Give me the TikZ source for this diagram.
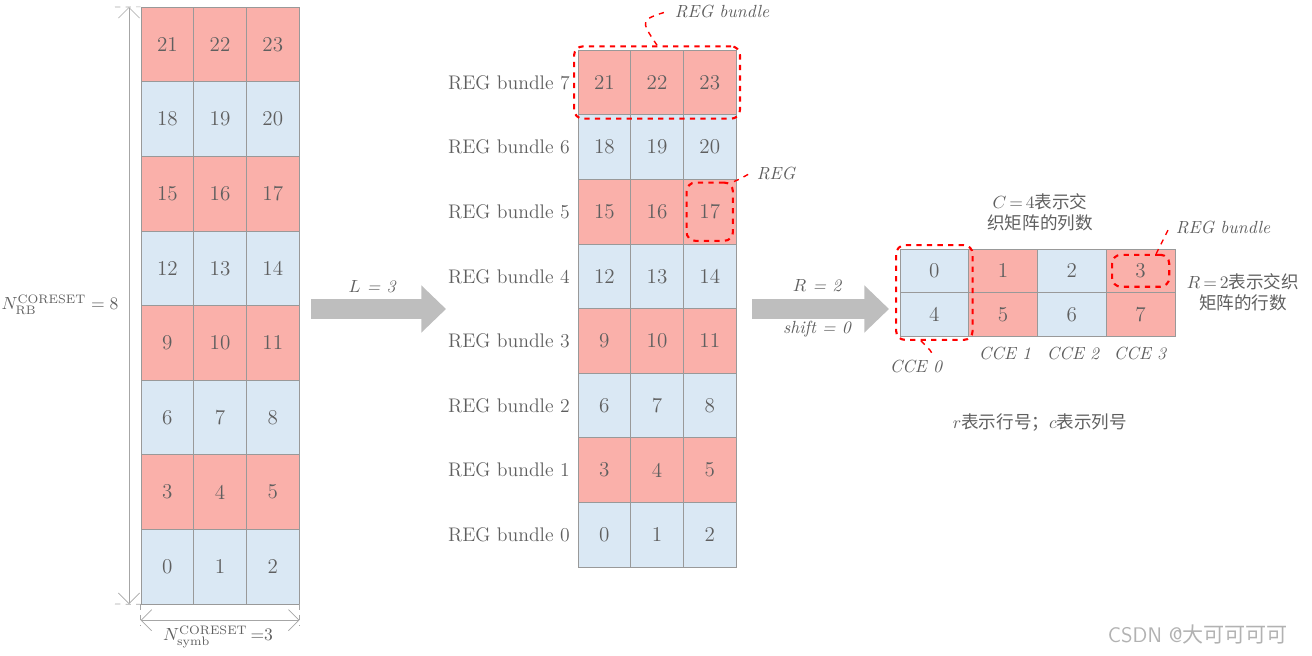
\documentclass[tikz,border=0pt]{standalone}
\usepackage{fontspec}
\newfontfamily\cjk{Noto Sans CJK SC}
\definecolor{regRed}{RGB}{250, 176, 170}
\definecolor{regBlue}{RGB}{218, 232, 244}
\definecolor{txtGray}{RGB}{95, 95, 95}
\definecolor{arrowGray}{RGB}{190, 190, 190}
\usetikzlibrary{
    arrows.meta,
    positioning,
    fit
}
\tikzset{
    cellBig/.style={draw=gray!80, minimum width=1.054cm, minimum height=1.492cm, inner sep=0pt, text=txtGray, font=\large},
    cellMid/.style={draw=gray!80, minimum width=1.054cm, minimum height=1.292cm, inner sep=0pt, text=txtGray, font=\large},
    cellCce/.style={draw=gray!80, minimum width=1.375cm, minimum height=0.87cm, inner sep=0pt, text=txtGray, font=\large},
    redBox/.style={draw=red, dashed, very thick, rounded corners=5pt, inner sep=2pt},
    callout/.style={draw=red, dashed, thick},
    note/.style={text=txtGray, font=\normalsize\itshape},
    bigArrow/.style={draw=none, fill=arrowGray},
    dimLine/.style={draw=gray!70, {Straight Barb[length=6pt]}-{Straight Barb[length=6pt]}},
    extLine/.style={draw=gray!70, dashed}
}
\begin{document}
\begin{tikzpicture}[x=0.02cm, y=-0.02cm]
    \useasboundingbox (0,0) rectangle (1312,656);

    % left grid
    \foreach \r in {0,...,7} {
        \foreach \c in {0,1,2} {
            \pgfmathtruncatemacro{\num}{3*\r+\c}
            \pgfmathsetmacro{\fillc}{mod(\r,2)==1 ? "regRed" : "regBlue"}
            \node[cellBig, fill=\fillc] (l-\r-\c) at ({141+52.7*(\c+0.5)}, {604-74.6*(\r+0.5)}) {\num};
        }
    }

    % middle grid
    \foreach \r in {0,...,7} {
        \foreach \c in {0,1,2} {
            \pgfmathtruncatemacro{\num}{3*\r+\c}
            \pgfmathsetmacro{\fillc}{mod(\r,2)==1 ? "regRed" : "regBlue"}
            \node[cellMid, fill=\fillc] (m-\r-\c) at ({578+52.7*(\c+0.5)}, {567-64.6*(\r+0.5)}) {\num};
        }
        \node[text=txtGray, font=\fontsize{11.2}{13}\selectfont, left=1pt of m-\r-0] (lab-\r) {REG bundle \r};
    }

    % right grid
    \foreach \r in {0,1} {
        \foreach \c in {0,...,3} {
            \pgfmathtruncatemacro{\num}{4*\r+\c}
            \pgfmathsetmacro{\fillc}{mod(\c,2)==1 ? "regRed" : "regBlue"}
            \node[cellCce, fill=\fillc] (c-\r-\c) at ({900+68.75*(\c+0.5)}, {249+43.5*(\r+0.5)}) {\num};
        }
    }

    % dimensions
    \coordinate (dimTop) at (129,7);
    \coordinate (dimBot) at (129,604);
    \draw[dimLine] (dimTop) -- (dimBot);
    \draw[extLine] (115,7) -- (l-7-0.north west);
    \draw[extLine] (115,604) -- (l-0-0.south west);
    \node[text=txtGray, font=\normalsize] (nrb) at (60,305) {$N_{\mathrm{RB}}^{\mathrm{CORESET}}=8$};
    \draw[extLine] (l-0-0.south west) -- ++(0,22);
    \draw[extLine] (l-0-2.south east) -- ++(0,22);
    \draw[dimLine] ([yshift=-9pt]l-0-0.south west) -- ([yshift=-9pt]l-0-2.south east);
    \node[text=txtGray, font=\normalsize] (nsymb) at (218,637) {$N_{\mathrm{symb}}^{\mathrm{CORESET}}$\,=3};

    % arrows
    \coordinate (a1s) at (311,309);
    \coordinate (a1e) at (446,309);
    \draw[bigArrow, line width=11pt, -{Triangle[length=14pt, width=26pt]}, draw=arrowGray] (a1s) -- (a1e);
    \node[note] (ll) at (372,287) {$L$ = 3};
    \coordinate (a2s) at (752,309);
    \coordinate (a2e) at (889,309);
    \draw[bigArrow, line width=11pt, -{Triangle[length=14pt, width=26pt]}, draw=arrowGray] (a2s) -- (a2e);
    \node[note] (rr) at (817,286) {$R$ = 2};
    \node[note] (sh) at (817,329) {shift = 0};

    % dashed marks
    \node[redBox, fit=(m-7-0)(m-7-2)] (bundleBox) {};
    \node[note] (bundleLab) at (722,11) {REG bundle};
    \draw[callout] (bundleBox.north west -| m-7-1.north) .. controls (640,20) .. (bundleLab.west);
    \node[redBox, fit=(m-5-2), inner sep=-2pt] (regBox) {};
    \node[note] (regLab) at (776,173) {REG};
    \draw[callout] (regBox.north east) .. controls (738,180) .. (regLab.west);
    \node[redBox, fit=(c-0-0)(c-1-0)] (cceBox) {};
    \node[note] (cceLab) at (916,366) {CCE 0};
    \draw[callout] ([xshift=-30pt]cceBox.south east) .. controls (932,352) .. ([xshift=-10pt]cceLab.north east);
    \node[redBox, fit=(c-0-3), inner sep=-3.5pt] (rbBox) {};
    \node[note] (rbLab) at (1223,227) {REG bundle};
    \draw[callout] ([xshift=-8pt]rbBox.north east) .. controls (1162,240) .. (rbLab.west);

    % texts
    \node[note] (cce1) at (1005,353) {CCE 1};
    \node[note] (cce2) at (1073,353) {CCE 2};
    \node[note] (cce3) at (1140,353) {CCE 3};
    \node[text=txtGray, font=\normalsize, align=center] (cnote) at (1040,212) {$C$\,=\,4{\cjk 表示交}\\{\cjk 织矩阵的列数}};
    \node[text=txtGray, font=\normalsize, align=center] (rnote) at (1243,292) {$R$\,=\,2{\cjk 表示交织}\\{\cjk 矩阵的行数}};
    \node[text=txtGray, font=\normalsize] (rcnote) at (1040,423) {$r${\cjk 表示行号；}$c${\cjk 表示列号}};
    \node[text=gray!60, font=\large\sffamily] (mark) at (1198,634) {CSDN @{\cjk 大可可可可}};
\end{tikzpicture}
\end{document}
